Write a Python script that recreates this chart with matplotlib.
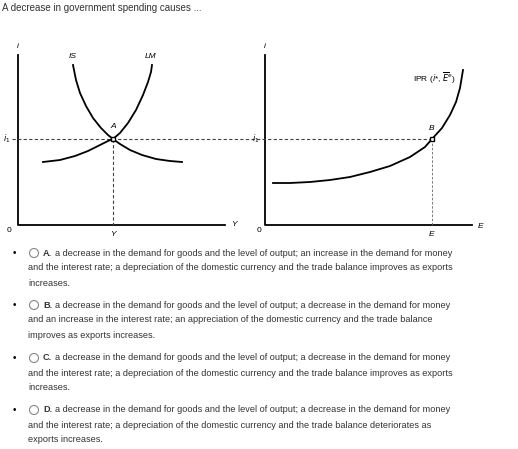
import matplotlib.pyplot as plt
from matplotlib.patches import Circle

plt.rcParams['font.family'] = ['Liberation Sans', 'DejaVu Sans']

W, H = 518, 449

title = "A decrease in government spending causes ..."

# curve points (pixel coords)
is_x = [73, 76, 80, 86, 93, 101, 108, 113, 120, 130, 142, 156, 170, 182]
is_y = [65, 80, 93, 106, 118, 128, 135, 139, 144, 150, 155, 159, 161, 162]
lm_x = [43, 60, 75, 88, 100, 108, 113, 120, 128, 136, 143, 148, 151, 152]
lm_y = [162, 160, 156, 151, 145, 141, 139, 133, 123, 110, 95, 82, 72, 65]
ipr_x = [273, 290, 310, 330, 350, 370, 390, 410, 425, 432, 442, 450, 456, 460, 463]
ipr_y = [183, 183, 182, 180, 177, 172, 166, 157, 147, 139, 128, 115, 102, 88, 70]

options = [
    ("A.", "a decrease in the demand for goods and the level of output; an increase in the demand for money",
     ["and the interest rate; a depreciation of the domestic currency and the trade balance improves as exports",
      "increases."]),
    ("B.", "a decrease in the demand for goods and the level of output; a decrease in the demand for money",
     ["and an increase in the interest rate; an appreciation of the domestic currency and the trade balance",
      "improves as exports increases."]),
    ("C.", "a decrease in the demand for goods and the level of output; a decrease in the demand for money",
     ["and the interest rate; a depreciation of the domestic currency and the trade balance improves as exports",
      "increases."]),
    ("D.", "a decrease in the demand for goods and the level of output; a decrease in the demand for money",
     ["and the interest rate; a depreciation of the domestic currency and the trade balance deteriorates as",
      "exports increases."]),
]
option_y = [253, 305, 358, 410]

fig = plt.figure(figsize=(W / 100, H / 100), dpi=100)
ax = fig.add_axes([0, 0, 1, 1])
ax.set_xlim(0, W)
ax.set_ylim(H, 0)
ax.axis('off')

ax.text(2, 8, title, fontsize=7, va='center', color='#333333')

k = 'black'
# axes
ax.plot([18, 18, 225], [55, 225, 225], color=k, lw=1.3)
ax.plot([265, 265, 472], [55, 225, 225], color=k, lw=1.3)
# dashed guides
ax.plot([12, 432], [139, 139], color='#444444', lw=0.8, ls=(0, (3, 2)))
ax.plot([113, 113], [139, 225], color='#444444', lw=0.8, ls=(0, (3, 2)))
ax.plot([432, 432], [139, 225], color='#666666', lw=0.6, ls=(0, (3, 2)))
# curves
ax.plot(is_x, is_y, color=k, lw=1.3)
ax.plot(lm_x, lm_y, color=k, lw=1.3)
ax.plot(ipr_x, ipr_y, color=k, lw=1.3)
ax.plot([113, 432], [139, 139], 's', ms=3.5, mfc='white', mec=k, mew=1)

it = dict(fontsize=6, style='italic', ha='center', va='center')
ax.text(18, 46, 'i', **it)
ax.text(265, 46, 'i', **it)
ax.text(73, 57, 'IS', **it)
ax.text(151, 57, 'LM', **it)
ax.text(113, 127, 'A', **it)
ax.text(432, 129, 'B', **it)
ax.text(7, 139, '$i_1$', **it)
ax.text(256, 139, '$i_1$', **it)
ax.text(9, 230, '0', fontsize=6, ha='center', va='center')
ax.text(259, 230, '0', fontsize=6, ha='center', va='center')
ax.text(234, 225, 'Y', **it)
ax.text(113, 234, 'Y', **it)
ax.text(481, 226, 'E', **it)
ax.text(432, 235, 'E', **it)
ax.text(434, 78, r'IPR ($i$*, $\overline{E}^e$)', fontsize=6, ha='center', va='center')

fs = 6.6
for (lab, first, rest), y0 in zip(options, option_y):
    ax.text(14, y0, '•', fontsize=7, ha='center', va='center')
    ax.add_patch(Circle((34, y0), 4.5, fill=False, ec='#888888', lw=0.8))
    t = ax.text(43, y0, lab, fontsize=fs, weight='bold', va='center', color='#333333')
    ax.annotate(first, xy=(1, 0.5), xycoords=t, xytext=(2, 0), textcoords='offset points',
                fontsize=fs, va='center', color='#333333')
    for j, line in enumerate(rest):
        ax.text(28, y0 + 15 * (j + 1), line, fontsize=fs, va='center', color='#333333')

fig.savefig('out.png', dpi=100)
